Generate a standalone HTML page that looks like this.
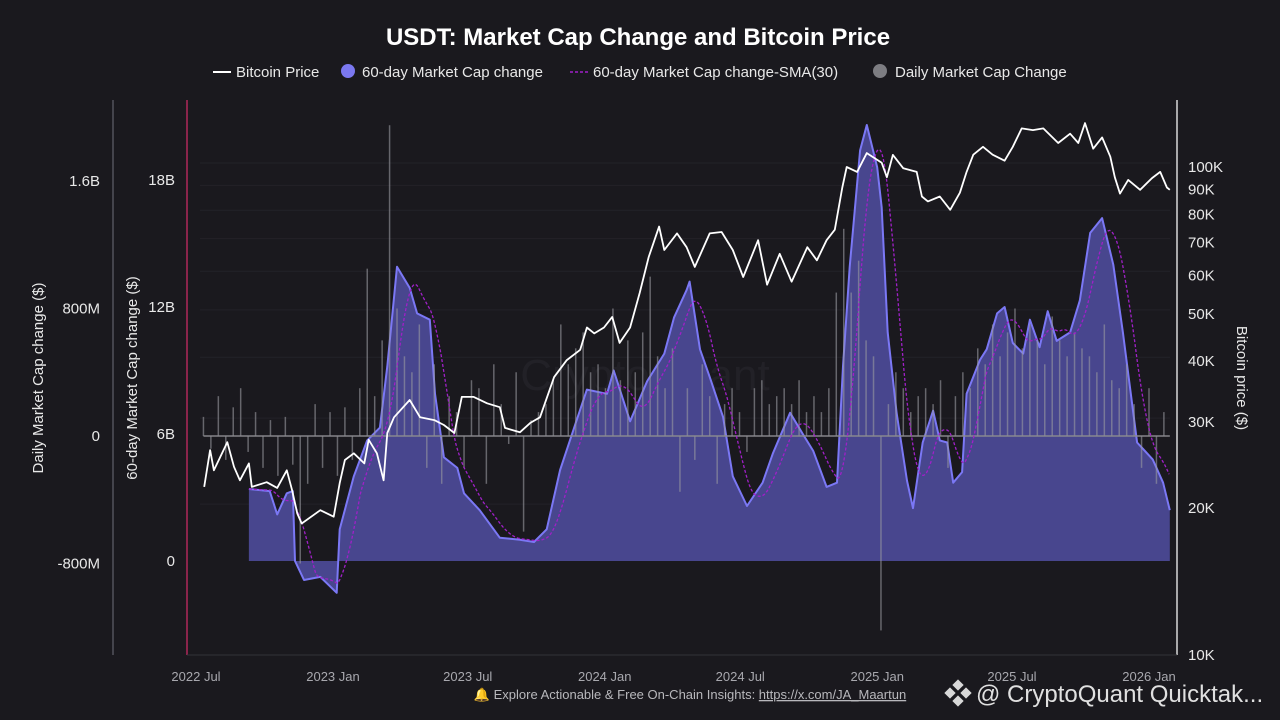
<!DOCTYPE html>
<html><head><meta charset="utf-8">
<style>
html,body{margin:0;padding:0;background:#1a191e;}
svg{display:block;font-family:"Liberation Sans",Arial,sans-serif;}
</style></head>
<body>
<svg id="chart" width="1280" height="720" viewBox="0 0 1280 720" xmlns="http://www.w3.org/2000/svg">
<rect x="0" y="0" width="1280" height="720" fill="#1a191e"/>
<text x="638" y="45" text-anchor="middle" fill="#ffffff" font-size="24" font-weight="bold">USDT: Market Cap Change and Bitcoin Price</text>
<g font-size="15" fill="#e8e8e8">
  <g><line x1="213" y1="72" x2="231" y2="72" stroke="#fff" stroke-width="2"/><text x="236" y="77">Bitcoin Price</text></g>
  <g><circle cx="348" cy="71" r="7" fill="#7b78f0"/><text x="362" y="77">60-day Market Cap change</text></g>
  <g><line x1="570" y1="72" x2="588" y2="72" stroke="#a020c8" stroke-width="1.5" stroke-dasharray="3,2"/><text x="593" y="77">60-day Market Cap change-SMA(30)</text></g>
  <g><circle cx="880" cy="71" r="7" fill="#7d7d82"/><text x="895" y="77">Daily Market Cap Change</text></g>
</g>
<text x="645" y="390" text-anchor="middle" fill="#222127" font-size="44">CryptoQuant</text>
<g id="grid"></g>
<g id="area"></g>
<g id="bars"></g>
<g id="sma"></g>
<g id="btc"></g>
<line x1="113" y1="100" x2="113" y2="655" stroke="#6e6e7a" stroke-width="1"/>
<line x1="187" y1="100" x2="187" y2="655" stroke="#b0285a" stroke-width="1.5"/>
<line x1="1177" y1="100" x2="1177" y2="655" stroke="#d8d8d8" stroke-width="1.5"/>
<line x1="187" y1="655" x2="1177" y2="655" stroke="#333238" stroke-width="1"/>
<g id="axes" font-size="15" fill="#e8e8e8"></g>
<text transform="translate(43,378) rotate(-90)" text-anchor="middle" fill="#e8e8e8" font-size="15">Daily Market Cap change ($)</text>
<text transform="translate(137,378) rotate(-90)" text-anchor="middle" fill="#e8e8e8" font-size="15">60-day Market Cap change ($)</text>
<text transform="translate(1237,378) rotate(90)" text-anchor="middle" fill="#e8e8e8" font-size="15">Bitcoin price ($)</text>
<text x="690" y="699" text-anchor="middle" fill="#b8b8bc" font-size="13">🔔 Explore Actionable &amp; Free On-Chain Insights: <tspan text-decoration="underline">https://x.com/JA_Maartun</tspan></text>
<g>
  <g fill="#d8d8d8" transform="translate(958,693)">
    <rect x="-4" y="-12" width="8" height="8" transform="rotate(45 0 -8)"/>
    <rect x="-12" y="-4" width="8" height="8" transform="rotate(45 -8 0)"/>
    <rect x="4" y="-4" width="8" height="8" transform="rotate(45 8 0)"/>
    <rect x="-4" y="4" width="8" height="8" transform="rotate(45 0 8)"/>
  </g>
  <text x="976" y="702" fill="#e0e0e0" font-size="24">@ CryptoQuant Quicktak...</text>
</g>
<script>
// ---- data ----
const xTickLabels = ["2022 Jul","2023 Jan","2023 Jul","2024 Jan","2024 Jul","2025 Jan","2025 Jul","2026 Jan"];
const xTickDays = [0,184,365,549,731,915,1096,1280];
const dailyTicks = [1600,800,0,-800];
const dailyTickLabels = ["1.6B","800M","0","-800M"];
const mcTicks = [18,12,6,0];
const mcTickLabels = ["18B","12B","6B","0"];
const btcTicks = [100000,90000,80000,70000,60000,50000,40000,30000,20000,10000];
const btcTickLabels = ["100K","90K","80K","70K","60K","50K","40K","30K","20K","10K"];

// daily change, every 10 days starting day 10 (millions USD)
const dailyValues = [120,-80,250,-150,180,300,
 -100,150,-200,100,-250,120,-180,
 -800,-300,200,-200,150,-250,180,-150,300,1050,250,600,1950,800,500,400,700,-200,450,-300,250,150,-200,350,300,-300,450,200,-50,400,-600,100,150,200,350,700,450,550,650,400,450,300,800,350,600,400,650,1000,500,300,550,-350,300,-150,450,250,-300,200,300,150,-100,300,350,200,250,300,200,350,150,250,150,300,900,1300,900,1100,600,500,-1220,200,400,300,150,250,300,200,350,-200,250,400,300,550,450,700,500,650,800,550,700,600,450,750,600,500,650,550,500,400,700,350,300,450,200,-200,300,-300,150];

// 60-day market cap change (billions USD), days since 2022-07-01
const mcDays = [71,99,109,122,130,133,145,167,189,193,212,230,247,257,270,287,297,314,321,333,351,360,381,408,435,454,471,489,508,525,552,561,583,606,629,642,659,663,677,690,708,721,740,761,775,798,815,829,847,861,869,878,892,901,915,921,929,941,955,963,976,990,999,1009,1017,1029,1035,1053,1062,1076,1086,1097,1111,1120,1133,1144,1156,1174,1187,1201,1217,1232,1245,1264,1285,1299,1308];
const mcValues = [3.4,3.3,2.2,3.2,3.3,0,-0.9,-0.75,-1.5,1.5,4,5.7,6.3,9.2,13.9,12.9,11.7,11.4,7.9,4.9,4.4,3.2,2.4,1.1,1.0,0.9,1.5,4.3,6.3,8.1,7.9,9,6.6,8.5,9.8,11.5,12.8,13.2,10,8.7,6.8,4,2.6,3.7,5.1,7,6,5.2,3.5,3.7,9.2,13.9,19.4,20.6,18.6,16.7,10.8,7,3.8,2.5,5.6,7.1,5.7,5.6,3.7,4.2,7.9,9.5,10,11.7,12,10.3,9.8,11.4,10.1,11.8,10.4,10.8,12.3,15.5,16.2,14,10.8,5.6,4.8,3.7,2.4];

// Bitcoin price (USD)
const btcDays = [11,19,24,42,51,59,71,75,95,109,122,129,136,142,167,185,193,200,212,226,232,243,252,257,266,287,301,320,333,347,357,373,391,408,415,435,449,462,481,498,516,525,535,548,559,569,583,596,608,622,629,646,659,670,690,706,721,735,755,767,784,800,821,834,847,858,868,874,888,901,921,928,936,950,968,975,983,999,1013,1026,1035,1044,1057,1070,1086,1097,1109,1124,1138,1158,1174,1185,1194,1205,1217,1228,1234,1241,1252,1268,1284,1295,1304,1308];
const btcValues = [22100,26300,23900,27300,24300,22800,24700,22100,22600,22000,23900,21800,19500,18600,19800,19200,22500,25100,25900,24700,27600,25900,22800,28500,30700,33300,30700,30300,29600,28500,33800,33800,32800,32200,29200,28600,29900,30700,37100,40200,42200,46900,45600,46900,49300,43600,46900,55200,65400,75500,67600,73100,68500,62400,73100,73600,67600,59500,70800,57400,66400,58200,68500,64400,70800,74400,90800,100000,97700,106800,102000,95300,105900,99400,97700,87000,85000,87000,81700,88600,97700,106000,110000,106000,103000,110000,120000,119000,120000,112000,117000,112000,123000,109000,115000,105000,95300,88200,94100,89800,94900,97700,90800,89800];

// ---- scales ----
const NS = "http://www.w3.org/2000/svg";
const xOf = d => 196 + d * (953 / 1280);
const yDaily = v => 436 - v * (127.5 / 800);
const yMc = v => 561 - v * (127 / 6);
const yBtc = p => 655 - 488 * Math.log10(p / 10000);
function mk(tag, attrs, parent) {
  const el = document.createElementNS(NS, tag);
  for (const k in attrs) el.setAttribute(k, attrs[k]);
  parent.appendChild(el);
  return el;
}

// grid
const grid = document.getElementById('grid');
btcTicks.slice(0, 9).forEach(p => {
  const g = mk('line', {x1: 200, x2: 1170, y1: yBtc(p) - 4, y2: yBtc(p) - 4, stroke: '#232228', 'stroke-width': 1}, grid);
  
  
});

// axis labels
const axes = document.getElementById('axes');


dailyTicks.forEach((v, i) => {
  const t = mk('text', {x: 100, y: yDaily(v) + 5, 'text-anchor': 'end'}, axes);
  t.textContent = dailyTickLabels[i];
  
  
});
mcTicks.forEach((v, i) => {
  const t = mk('text', {x: 175, y: yMc(v) + 5, 'text-anchor': 'end'}, axes);
  t.textContent = mcTickLabels[i];
  
  
});
btcTicks.forEach((v, i) => {
  const t = mk('text', {x: 1188, y: yBtc(v) + 5, 'text-anchor': 'start'}, axes);
  t.textContent = btcTickLabels[i];
  
  
});
xTickDays.forEach((d, i) => {
  const t = mk('text', {x: xOf(d), y: 681, 'text-anchor': 'middle', 'font-size': 13, fill: '#a8a8ae'}, axes);
  t.textContent = xTickLabels[i];
  
  
});

// 60-day area + line
const area = document.getElementById('area');
let pts = mcDays.map((d, i) => xOf(d).toFixed(1) + ',' + yMc(mcValues[i]).toFixed(1));
const areaPath = mk('path', {d: 'M' + xOf(mcDays[0]) + ',' + yMc(0) + ' L' + pts.join(' L') + ' L' + xOf(mcDays[mcDays.length - 1]) + ',' + yMc(0) + ' Z', fill: '#48468e'}, area);


const mcLine = mk('polyline', {points: pts.join(' '), fill: 'none', stroke: '#7b78f5', 'stroke-width': 2, 'stroke-linejoin': 'round'}, area);



// daily bars
const bars = document.getElementById('bars');
dailyValues.forEach((v, i) => {
  const d = 10 + i * 10;
  const y0 = yDaily(0), y1 = yDaily(v);
  const b = mk('rect', {x: xOf(d) - 0.75, y: Math.min(y0, y1), width: 1.5, height: Math.max(1, Math.abs(y1 - y0)), fill: '#9a9aa0', opacity: 0.6}, bars);
  
  
});
mk('line', {x1: xOf(10), x2: xOf(1308), y1: yDaily(0), y2: yDaily(0), stroke: '#8c8c90', 'stroke-width': 2, opacity: 0.7}, bars);

// SMA(30) over interpolated daily values
function interp(d) {
  if (d <= mcDays[0]) return mcValues[0];
  for (let i = 1; i < mcDays.length; i++) {
    if (d <= mcDays[i]) {
      const t = (d - mcDays[i - 1]) / (mcDays[i] - mcDays[i - 1]);
      return mcValues[i - 1] + t * (mcValues[i] - mcValues[i - 1]);
    }
  }
  return mcValues[mcValues.length - 1];
}
const smaPts = [];
for (let d = mcDays[0]; d <= mcDays[mcDays.length - 1]; d += 2) {
  let s = 0, n = 0;
  for (let k = Math.max(mcDays[0], d - 29); k <= d; k++) { s += interp(k); n++; }
  smaPts.push(xOf(d).toFixed(1) + ',' + yMc(s / n).toFixed(1));
}
const smaLine = mk('polyline', {points: smaPts.join(' '), fill: 'none', stroke: '#a020c8', 'stroke-width': 1.3, 'stroke-dasharray': '3,2'}, document.getElementById('sma'));



// BTC line
const btcPts = btcDays.map((d, i) => xOf(d).toFixed(1) + ',' + yBtc(btcValues[i]).toFixed(1));
const btcLine = mk('polyline', {points: btcPts.join(' '), fill: 'none', stroke: '#ffffff', 'stroke-width': 1.8, 'stroke-linejoin': 'round'}, document.getElementById('btc'));


</script>
</svg>
</body></html>
